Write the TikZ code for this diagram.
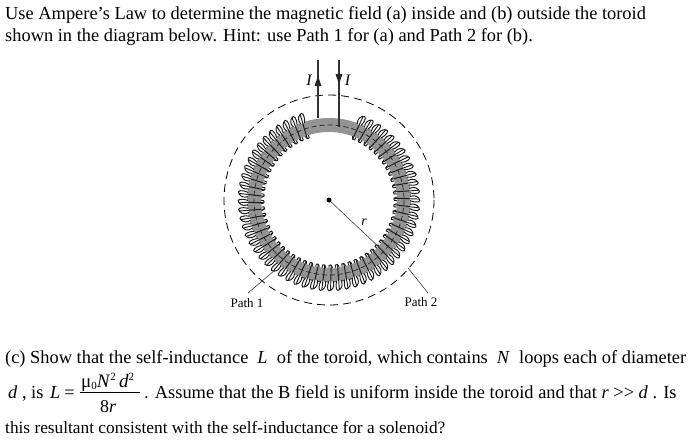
\documentclass[tikz,border=0pt]{standalone}
\usepackage{fontspec}
\setmainfont{Liberation Serif}
\usetikzlibrary{arrows.meta}
\tikzset{
  px/.style={x=1pt,y=-1pt},
  txt/.style={anchor=base west,inner sep=0pt,font=\fontsize{18.4}{20}\selectfont},
  sml/.style={anchor=base,inner sep=0pt,font=\fontsize{13}{14}\selectfont},
  curr/.style={anchor=base,inner sep=0pt,font=\fontsize{16}{16}\selectfont\itshape},
  pathline/.style={draw=black,line width=0.8pt,dash pattern=on 8pt off 5pt},
  leader/.style={draw=black!75,line width=0.6pt},
  wire/.style={draw=black!80,line width=1.2pt},
  turn/.style={draw=black!90,line width=0.95pt},
}
\begin{document}
\begin{tikzpicture}[px]
\useasboundingbox (0,0) rectangle (700,440);
\fill[white] (0,0) rectangle (700,440);
% question text
\node[txt] (l1) at (5,19) {Use Ampere's Law to determine the magnetic field (a) inside and (b) outside the toroid};
\node[txt] (l2) at (5,41) {shown in the diagram below. Hint: use Path 1 for (a) and Path 2 for (b).};
\node[txt] (l3) at (5,363) {(c) Show that the self-inductance\hspace{4.5pt} \textit{L}\hspace{4.5pt} of the toroid, which contains\hspace{4.5pt} \textit{N}\hspace{4.5pt} loops each of diameter};
\node[txt] (l4a) at (8,398) {\textit{d} , is\hspace{2pt} \textit{L}\hspace{1pt}\,=};
\node[txt,font=\fontsize{19}{20}\selectfont] (num) at (81,387) {μ\raisebox{-2pt}{\fontsize{11}{11}\selectfont 0}\textit{N}\raisebox{7pt}{\fontsize{11}{11}\selectfont 2}\,\textit{d}\raisebox{7pt}{\fontsize{11}{11}\selectfont 2}};
\draw[black,line width=0.7pt] (80,392) -- (140,392);
\node[txt,font=\fontsize{18}{18}\selectfont] (den) at (100,412) {8\textit{r}};
\node[txt] (l4b) at (144,398) {. Assume that the B field is uniform inside the toroid and that \textit{r} {>}{>} \textit{d} . Is};
\node[txt,font=\fontsize{17.3}{20}\selectfont] (l5) at (5,433) {this resultant consistent with the self-inductance for a solenoid?};
% toroid body
\def\cx{329}\def\cy{200}
\fill[black!42,even odd rule] (\cx,\cy) circle[radius=82] (\cx,\cy) circle[radius=68];
\draw[black!80,line width=0.9pt] (\cx,\cy) ++(70:82) arc[start angle=70,end angle=110,radius=82];
% outer path (Path 2)
\draw[pathline] (\cx,\cy) circle[radius=105];
% coil turns
\foreach \a in {-251,-245.4,...,72}{
  \begin{scope}[shift={(\cx,\cy)},rotate=\a]
    \draw[turn,fill=white] (81,2) .. controls (88,5) and (93,3.5) .. (90,0) .. controls (88,-2.8) and (84.5,-3.4) .. (81,-2);
    \draw[turn,fill=white] (68,1.7) .. controls (65.5,2.4) and (64.5,1.2) .. (65,0) .. controls (65.5,-1.1) and (67,-1.7) .. (68,-1.7);
    \draw[turn] (65,-0.6) -- (90,0.6);
  \end{scope}
}
% inner path (Path 1)
\draw[black!85,line width=0.7pt,dash pattern=on 5pt off 3pt] (\cx,\cy) circle[radius=75];
% wires
\coordinate (w1t) at (318,60); \coordinate (w1b) at (318,118);
\coordinate (w2t) at (339,60); \coordinate (w2b) at (339,127);
\draw[wire] (w1t) -- (w1b);
\draw[wire] (w2t) -- (w2b);
\draw[draw=none,fill=black!85] (318,76) -- (321.5,86) -- (314.5,86) -- cycle;
\draw[draw=none,fill=black!85] (339,84) -- (342.5,74) -- (335.5,74) -- cycle;
\node[curr] (i1) at (309,85) {I};
\node[curr] (i2) at (347.5,85) {I};
% radius
\node[circle,fill=black,inner sep=0pt,minimum size=5pt] (ctr) at (\cx,\cy) {};
\coordinate (rend) at (382,250);
\draw[leader] (ctr) -- (rend);
\node[curr,font=\fontsize{14}{14}\selectfont\itshape] (rl) at (364,225) {r};
% path labels
\node[sml] (p1) at (247,307) {Path 1};
\node[sml] (p2) at (421,306) {Path 2};
\coordinate (p1e) at (275,270);
\coordinate (p2e) at (408,268);
\draw[leader] (p1e) -- (248,293);
\draw[leader] (p2e) -- (428,293);
\end{tikzpicture}
\end{document}
